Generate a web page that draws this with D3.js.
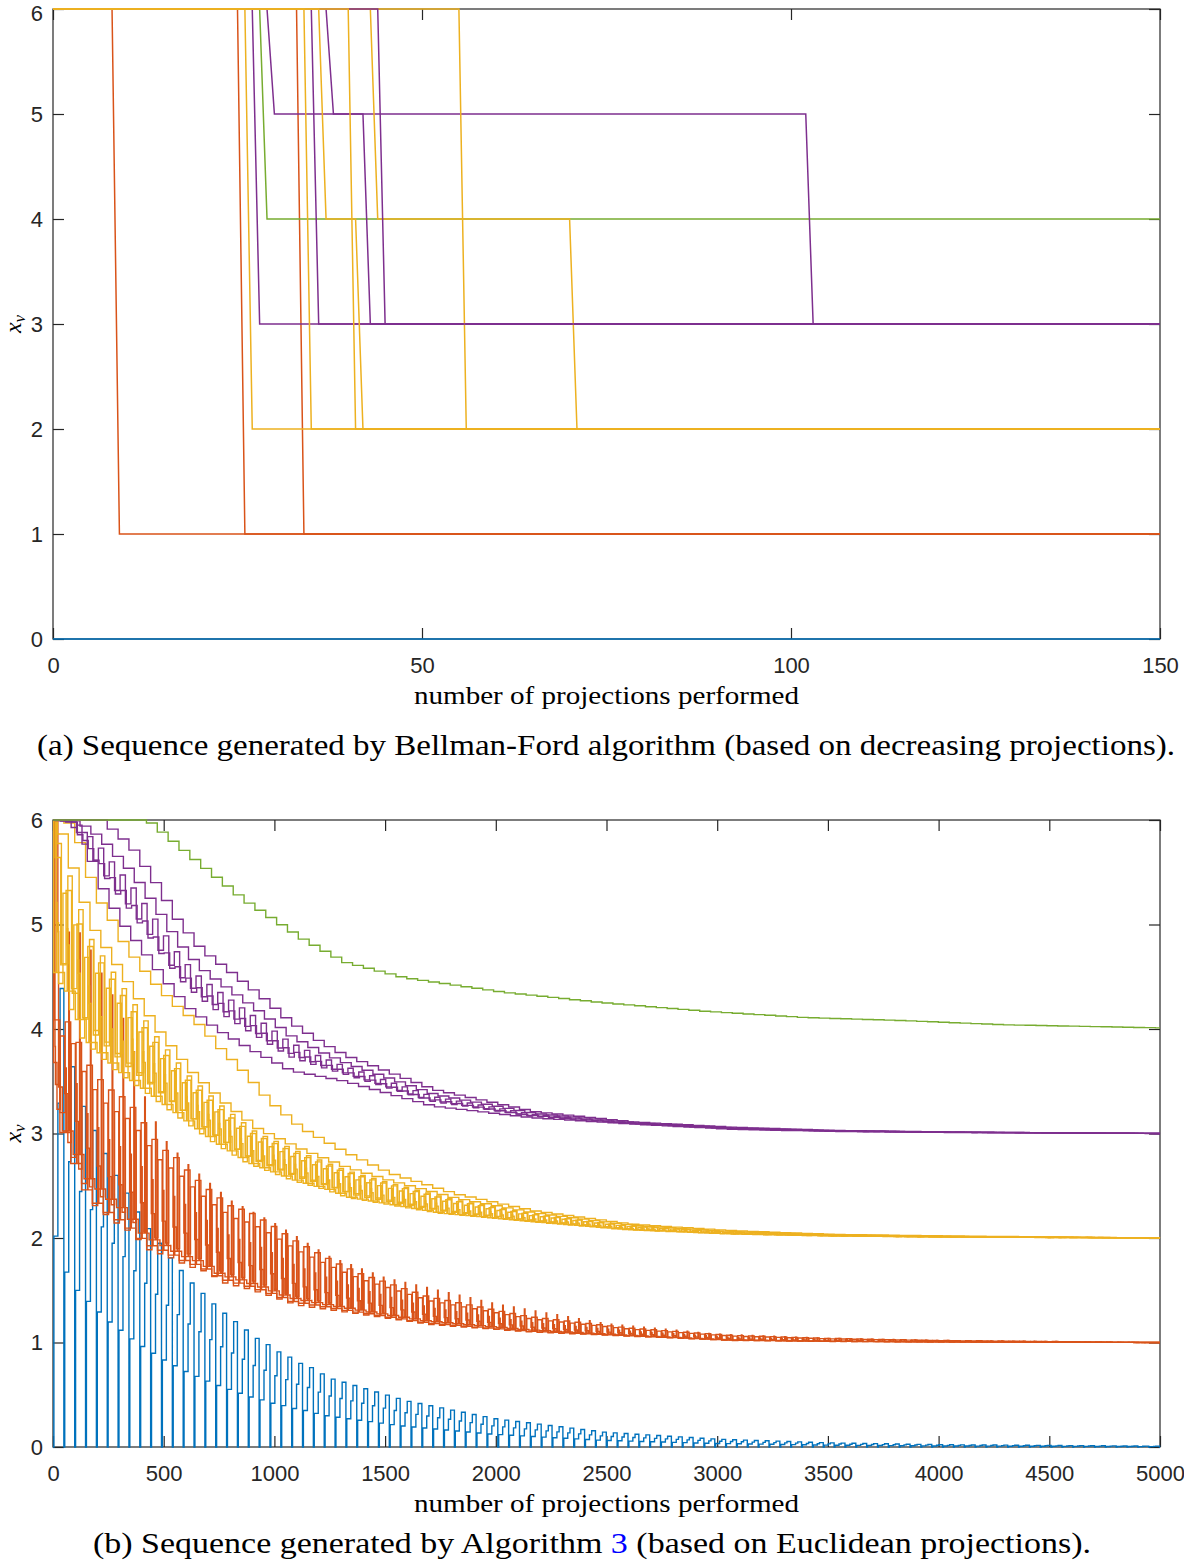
<!DOCTYPE html>
<html>
<head>
<meta charset="utf-8">
<script src="https://cdn.jsdelivr.net/npm/d3@7"></script>
<style>
  body { margin: 0; background: #fff; }
  svg { display: block; }
</style>
</head>
<body>
<svg id="fig" width="1184" height="1562"></svg>
<script>
// ---------- shared ----------
var yTicks = [0, 1, 2, 3, 4, 5, 6];

// ---------- panel (a): Bellman-Ford, one path per vertex as [projection, x_v] ----------
var topXTicks = [0, 50, 100, 150];
var topBlue = [
    [[0, 0], [150, 0]]
];
var topRed = [
    [[0, 6], [8, 6], [9, 1], [150, 1]],
    [[0, 6], [25, 6], [26, 1], [150, 1]],
    [[0, 6], [33, 6], [34, 1], [150, 1]]
];
var topYellow = [
    [[0, 6], [26, 6], [27, 2], [150, 2]],
    [[0, 6], [34, 6], [35, 2], [150, 2]],
    [[0, 6], [36, 6], [37, 4], [41, 4], [42, 2], [150, 2]],
    [[0, 6], [40, 6], [41, 2], [150, 2]],
    [[0, 6], [43, 6], [44, 4], [70, 4], [71, 2], [150, 2]],
    [[0, 6], [55, 6], [56, 2], [150, 2]]
];
var topPurple = [
    [[0, 6], [27, 6], [28, 3], [150, 3]],
    [[0, 6], [29, 6], [30, 5], [102, 5], [103, 3], [150, 3]],
    [[0, 6], [35, 6], [36, 3], [150, 3]],
    [[0, 6], [37, 6], [38, 5], [42, 5], [43, 3], [150, 3]],
    [[0, 6], [44, 6], [45, 3], [150, 3]]
];
var topGreen = [
    [[0, 6], [28, 6], [29, 4], [150, 4]]
];

// ---------- panel (b): Euclidean projections ----------
var botXTicks = [0, 500, 1000, 1500, 2000, 2500, 3000, 3500, 4000, 4500, 5000];
var cycleLen = 49;   // projections between two blue resets

// blue: height of each reset spike, [projection at peak] / [x_v]
var bluePeakAt = [40, 89, 138, 187, 236, 285, 334, 383, 432, 481, 530, 579, 628, 677, 726, 775,
    824, 873, 922, 971, 1020, 1069, 1118, 1167, 1216, 1265, 1600, 2000, 2500, 3000, 3500, 4000, 5000];
var bluePeak = [4.39, 3.64, 3.26, 3.03, 2.81, 2.60, 2.43, 2.25, 2.09, 1.95, 1.81, 1.69, 1.57, 1.47, 1.37, 1.28,
    1.20, 1.12, 1.04, 0.98, 0.91, 0.86, 0.80, 0.76, 0.70, 0.65, 0.44, 0.27, 0.14, 0.075, 0.040, 0.022, 0.008];

// red band (final value 1): [projection, x_v]
var redHigh = [[0, 4.93], [41, 4.93], [122, 4.92], [176, 4.73], [226, 4.5], [271, 4.31], [325, 4.06],
    [370, 3.75], [420, 3.3], [500, 2.95], [620, 2.68], [800, 2.36], [1000, 2.14], [1250, 1.82],
    [1500, 1.62], [2000, 1.37], [2500, 1.18], [3000, 1.08], [3500, 1.04], [4000, 1.02], [5000, 1.0]];
var redTop = [[0, 4.1], [100, 4.06], [150, 3.73], [250, 3.45], [348, 3.32], [406, 3.16], [452, 3.0],
    [497, 2.87], [565, 2.78], [619, 2.65], [678, 2.53], [736, 2.43], [813, 2.31], [900, 2.25],
    [1003, 2.12], [1102, 1.98], [1206, 1.86], [1296, 1.76], [1400, 1.66], [1703, 1.44], [2154, 1.25],
    [2606, 1.14], [3058, 1.07], [3500, 1.04], [4000, 1.02], [5000, 1.0]];
var redLow = [[0, 3.5], [68, 2.83], [121, 2.56], [166, 2.33], [218, 2.24], [263, 2.16], [316, 2.09],
    [361, 2.01], [420, 1.89], [510, 1.82], [601, 1.73], [678, 1.68], [763, 1.57], [858, 1.52],
    [980, 1.44], [1084, 1.36], [1251, 1.31], [1703, 1.17], [2154, 1.10], [2606, 1.06], [3058, 1.02],
    [3500, 1.01], [4000, 1.005], [5000, 1.0]];

// yellow band (final value 2)
var yellowHigh = [[0, 6], [40, 6], [90, 5.84], [135, 5.52], [180, 5.26], [245, 5.04], [290, 4.85],
    [362, 4.63], [452, 4.40], [542, 4.21], [650, 4.02], [740, 3.80], [845, 3.58], [950, 3.32],
    [1100, 3.05], [1300, 2.82], [1500, 2.62], [1800, 2.42], [2150, 2.26], [2600, 2.13], [3050, 2.07],
    [3500, 2.035], [4000, 2.02], [5000, 2.0]];
var yellowTop = [[0, 6], [60, 5.6], [150, 5.0], [300, 4.5], [450, 4.0], [600, 3.6], [750, 3.3],
    [900, 3.05], [1100, 2.85], [1300, 2.68], [1500, 2.55], [1800, 2.38], [2150, 2.24], [2600, 2.12],
    [3050, 2.06], [3500, 2.03], [4000, 2.015], [5000, 2.0]];
var yellowLow = [[0, 4.6], [60, 4.4], [150, 3.9], [300, 3.6], [438, 3.39], [600, 3.13], [750, 2.9],
    [890, 2.72], [1100, 2.55], [1251, 2.46], [1341, 2.39], [1750, 2.24], [2150, 2.16], [2600, 2.08],
    [3050, 2.04], [3500, 2.02], [4000, 2.01], [5000, 2.0]];

// purple band (final value 3)
var purpleHigh = [[0, 6], [200, 6], [334, 5.74], [454, 5.36], [542, 5.04], [649, 4.76], [784, 4.54],
    [920, 4.31], [1055, 4.06], [1191, 3.87], [1296, 3.75], [1700, 3.42], [2150, 3.21], [2600, 3.11],
    [3050, 3.06], [3500, 3.03], [4000, 3.015], [5000, 3.0]];
var purpleLow = [[0, 6], [90, 5.97], [152, 5.62], [212, 5.30], [303, 4.98], [393, 4.73], [483, 4.47],
    [587, 4.21], [723, 3.99], [875, 3.80], [1055, 3.6], [1296, 3.5], [1700, 3.26], [2150, 3.15],
    [2600, 3.09], [3050, 3.04], [3500, 3.02], [4000, 3.01], [5000, 3.0]];

// green (final value 4)
var greenLine = [[0, 6], [406, 6], [619, 5.62], [845, 5.23], [1115, 4.85], [1296, 4.64], [1567, 4.49],
    [2019, 4.35], [2471, 4.25], [2922, 4.17], [3374, 4.11], [3826, 4.08], [4277, 4.04], [5000, 4.01]];

// ---------- drawing ----------
var ink = "#262626";
var col = {
    blue: "#0072BD", red: "#D95319", yellow: "#EDB120",
    purple: "#7E2F8E", green: "#77AC30"
};
var svg = d3.select("#fig");
var defs = svg.append("defs");
var fmt = d3.format("d");

function makePanel(box, xDomain, xTicks, id) {
    var x = d3.scaleLinear().domain(xDomain).range([box.left, box.right]);
    var y = d3.scaleLinear().domain([0, 6]).range([box.bottom, box.top]);
    var g = svg.append("g");

    function style(sel) {
        sel.select(".domain").remove();
        sel.selectAll(".tick line").attr("stroke", ink).attr("stroke-width", 1.2);
        sel.attr("font-family", "'Liberation Sans', Arial, sans-serif")
            .attr("font-size", 22);
        sel.selectAll(".tick text").attr("fill", ink);
    }
    g.append("g").attr("transform", "translate(0," + box.bottom + ")")
        .call(d3.axisBottom(x).tickValues(xTicks).tickSize(-11).tickSizeOuter(0)
            .tickPadding(18).tickFormat(fmt))
        .call(style);
    g.append("g").attr("transform", "translate(0," + box.top + ")")
        .call(d3.axisTop(x).tickValues(xTicks).tickSize(-11).tickSizeOuter(0).tickFormat(""))
        .call(style);
    var left = g.append("g").attr("transform", "translate(" + box.left + ",0)")
        .call(d3.axisLeft(y).tickValues(yTicks).tickSize(-11).tickSizeOuter(0)
            .tickPadding(10).tickFormat(fmt))
        .call(style);
    // keep the topmost label inside the page
    if (box.top < 20) {
        left.selectAll(".tick text").filter(function (d) { return d === 6; }).attr("dy", "0.5em");
    }
    g.append("g").attr("transform", "translate(" + box.right + ",0)")
        .call(d3.axisRight(y).tickValues(yTicks).tickSize(-11).tickSizeOuter(0).tickFormat(""))
        .call(style);
    g.append("rect")
        .attr("x", box.left).attr("y", box.top)
        .attr("width", box.right - box.left).attr("height", box.bottom - box.top)
        .attr("fill", "none").attr("stroke", ink).attr("stroke-width", 1.2);

    defs.append("clipPath").attr("id", id).append("rect")
        .attr("x", box.left - 1).attr("y", box.top - 1.5)
        .attr("width", box.right - box.left + 2).attr("height", box.bottom - box.top + 3);
    var plot = svg.append("g").attr("clip-path", "url(#" + id + ")");
    return { x: x, y: y, plot: plot };
}

function yLabel(cy) {
    var t = svg.append("text")
        .attr("transform", "translate(21," + cy + ") rotate(-90)")
        .attr("text-anchor", "middle")
        .attr("font-family", "'Liberation Serif', 'DejaVu Serif', serif")
        .attr("font-size", 24).attr("font-style", "italic");
    t.append("tspan").text("x");
    t.append("tspan").attr("font-size", 17).attr("dy", 4).text("v");
}

function xLabel(baseline) {
    svg.append("text")
        .attr("x", 606.5).attr("y", baseline)
        .attr("text-anchor", "middle")
        .attr("font-family", "'Liberation Serif', 'DejaVu Serif', serif")
        .attr("font-size", 25)
        .attr("textLength", 385).attr("lengthAdjust", "spacingAndGlyphs")
        .text("number of projections performed");
}

// ----- panel (a)
var pa = makePanel({ left: 53, right: 1160, top: 9, bottom: 639 }, [0, 150], topXTicks, "clipA");
var topPaths = { blue: topBlue, red: topRed, yellow: topYellow, purple: topPurple, green: topGreen };
var topOrder = [
    ["blue", 0], ["red", 0], ["red", 1], ["red", 2], ["green", 0],
    ["purple", 0], ["purple", 1], ["purple", 2], ["purple", 3],
    ["yellow", 4], ["yellow", 5], ["purple", 4],
    ["yellow", 0], ["yellow", 1], ["yellow", 2], ["yellow", 3]
];
var lineA = d3.line()
    .x(function (d) { return pa.x(d[0]); })
    .y(function (d) { return pa.y(d[1]); });
pa.plot.selectAll("path")
    .data(topOrder)
    .enter()
    .append("path")
    .attr("d", function (o) { return lineA(topPaths[o[0]][o[1]]); })
    .attr("fill", "none")
    .attr("stroke", function (o) { return col[o[0]]; })
    .attr("stroke-width", 1.5);

yLabel(324);
xLabel(703.5);
svg.append("text")
    .attr("x", 37).attr("y", 755)
    .attr("font-family", "'Liberation Serif', 'DejaVu Serif', serif")
    .attr("font-size", 29)
    .attr("textLength", 1138).attr("lengthAdjust", "spacingAndGlyphs")
    .text("(a) Sequence generated by Bellman-Ford algorithm (based on decreasing projections).");

// ----- panel (b)
var pb = makePanel({ left: 53, right: 1160, top: 820, bottom: 1447 }, [0, 5000], botXTicks, "clipB");

function env(pairs) {
    return d3.scaleLinear()
        .domain(pairs.map(function (p) { return p[0]; }))
        .range(pairs.map(function (p) { return p[1]; }))
        .clamp(true);
}
var E = {
    zero: d3.scaleLinear().domain([0, 5000]).range([0, 0]),
    bluePeak: d3.scaleLinear().domain(bluePeakAt).range(bluePeak).clamp(true),
    redHigh: env(redHigh), redTop: env(redTop), redLow: env(redLow),
    yellowHigh: env(yellowHigh), yellowTop: env(yellowTop), yellowLow: env(yellowLow),
    purpleHigh: env(purpleHigh), purpleLow: env(purpleLow),
    green: env(greenLine)
};

// one entry per vertex: which band it sits in and where in the cycle it moves
var STAIR = [[0, 1]];
var botSeries = [
    { c: "blue", lo: "zero", hi: "bluePeak", shape: [[0, 0], [0.09, 0.46], [0.45, 0.75], [0.66, 1]], phase: 0, ref: 0.82, v0: 0 },

    { c: "red", lo: "redLow", hi: "redTop", shape: [[0, 1], [0.5, 0]], phase: 6, ref: 0.5, v0: 6 },
    { c: "red", lo: "redLow", hi: "redTop", shape: [[0, 0.15], [0.3, 0.85], [0.7, 0.3]], phase: 18, ref: 0.5, v0: 6 },
    { c: "red", lo: "redLow", hi: "redTop", shape: [[0, 0.05], [0.55, 0.6], [0.6, 0.05]], phase: 31, ref: 0.5, v0: 6 },
    { c: "red", lo: "redLow", hi: "redHigh", shape: [[0, 0.1], [0.6, 1], [0.65, 0.1]], phase: 42, ref: 0.6, v0: 6 },

    { c: "yellow", lo: "yellowHigh", hi: "yellowHigh", shape: STAIR, phase: 0, ref: 0, v0: 6 },
    { c: "yellow", lo: "yellowTop", hi: "yellowTop", shape: STAIR, phase: 20, ref: 0, v0: 6 },
    { c: "yellow", lo: "yellowLow", hi: "yellowTop", shape: [[0, 0.9], [0.5, 0.1]], phase: 10, ref: 0.5, v0: 6 },
    { c: "yellow", lo: "yellowLow", hi: "yellowTop", shape: [[0, 0], [0.4, 0.7], [0.8, 0.3]], phase: 25, ref: 0.5, v0: 6 },
    { c: "yellow", lo: "yellowLow", hi: "yellowTop", shape: [[0, 0.2], [0.6, 0.9]], phase: 38, ref: 0.5, v0: 6 },
    { c: "yellow", lo: "yellowLow", hi: "yellowTop", shape: [[0, 0], [0.25, 0.5], [0.3, 0]], phase: 3, ref: 0.3, v0: 6 },

    { c: "purple", lo: "purpleHigh", hi: "purpleHigh", shape: STAIR, phase: 0, ref: 0, v0: 6 },
    { c: "purple", lo: "purpleLow", hi: "purpleHigh", shape: [[0, 0.72]], phase: 24, ref: 0, v0: 6 },
    { c: "purple", lo: "purpleLow", hi: "purpleHigh", shape: [[0, 0.5], [0.5, 0.3]], phase: 12, ref: 0.5, v0: 6 },
    { c: "purple", lo: "purpleLow", hi: "purpleHigh", shape: [[0, 0.42], [0.5, 0.6]], phase: 33, ref: 0.5, v0: 6 },
    { c: "purple", lo: "purpleLow", hi: "purpleLow", shape: STAIR, phase: 8, ref: 0, v0: 6 },

    { c: "green", lo: "green", hi: "green", shape: STAIR, phase: 30, ref: 0, v0: 6 }
];

function seriesPoints(s) {
    var lo = E[s.lo], hi = E[s.hi];
    var pts = [[0, s.v0]];
    for (var start = s.phase - cycleLen; start < 5000; start += cycleLen) {
        var r = Math.max(0, start + s.ref * cycleLen);
        var a = lo(r), b = hi(r);
        s.shape.forEach(function (p) {
            var t = Math.round(start + p[0] * cycleLen);
            if (t > 0 && t < 5000) pts.push([t, a + p[1] * (b - a)]);
        });
    }
    pts.push([5000, pts[pts.length - 1][1]]);
    return pts;
}

var lineB = d3.line()
    .curve(d3.curveStepAfter)
    .x(function (d) { return pb.x(d[0]); })
    .y(function (d) { return pb.y(d[1]); });
pb.plot.selectAll("path")
    .data(botSeries)
    .enter()
    .append("path")
    .attr("d", function (s) { return lineB(seriesPoints(s)); })
    .attr("fill", "none")
    .attr("stroke", function (s) { return col[s.c]; })
    .attr("stroke-width", 1.4)
    .attr("stroke-linejoin", "miter");

yLabel(1133.5);
xLabel(1511.7);
var cap = svg.append("text")
    .attr("x", 93).attr("y", 1553)
    .attr("font-family", "'Liberation Serif', 'DejaVu Serif', serif")
    .attr("font-size", 29)
    .attr("textLength", 998).attr("lengthAdjust", "spacingAndGlyphs");
cap.append("tspan").text("(b) Sequence generated by Algorithm ");
cap.append("tspan").attr("fill", "#0000FF").text("3");
cap.append("tspan").text(" (based on Euclidean projections).");
</script>
</body>
</html>
